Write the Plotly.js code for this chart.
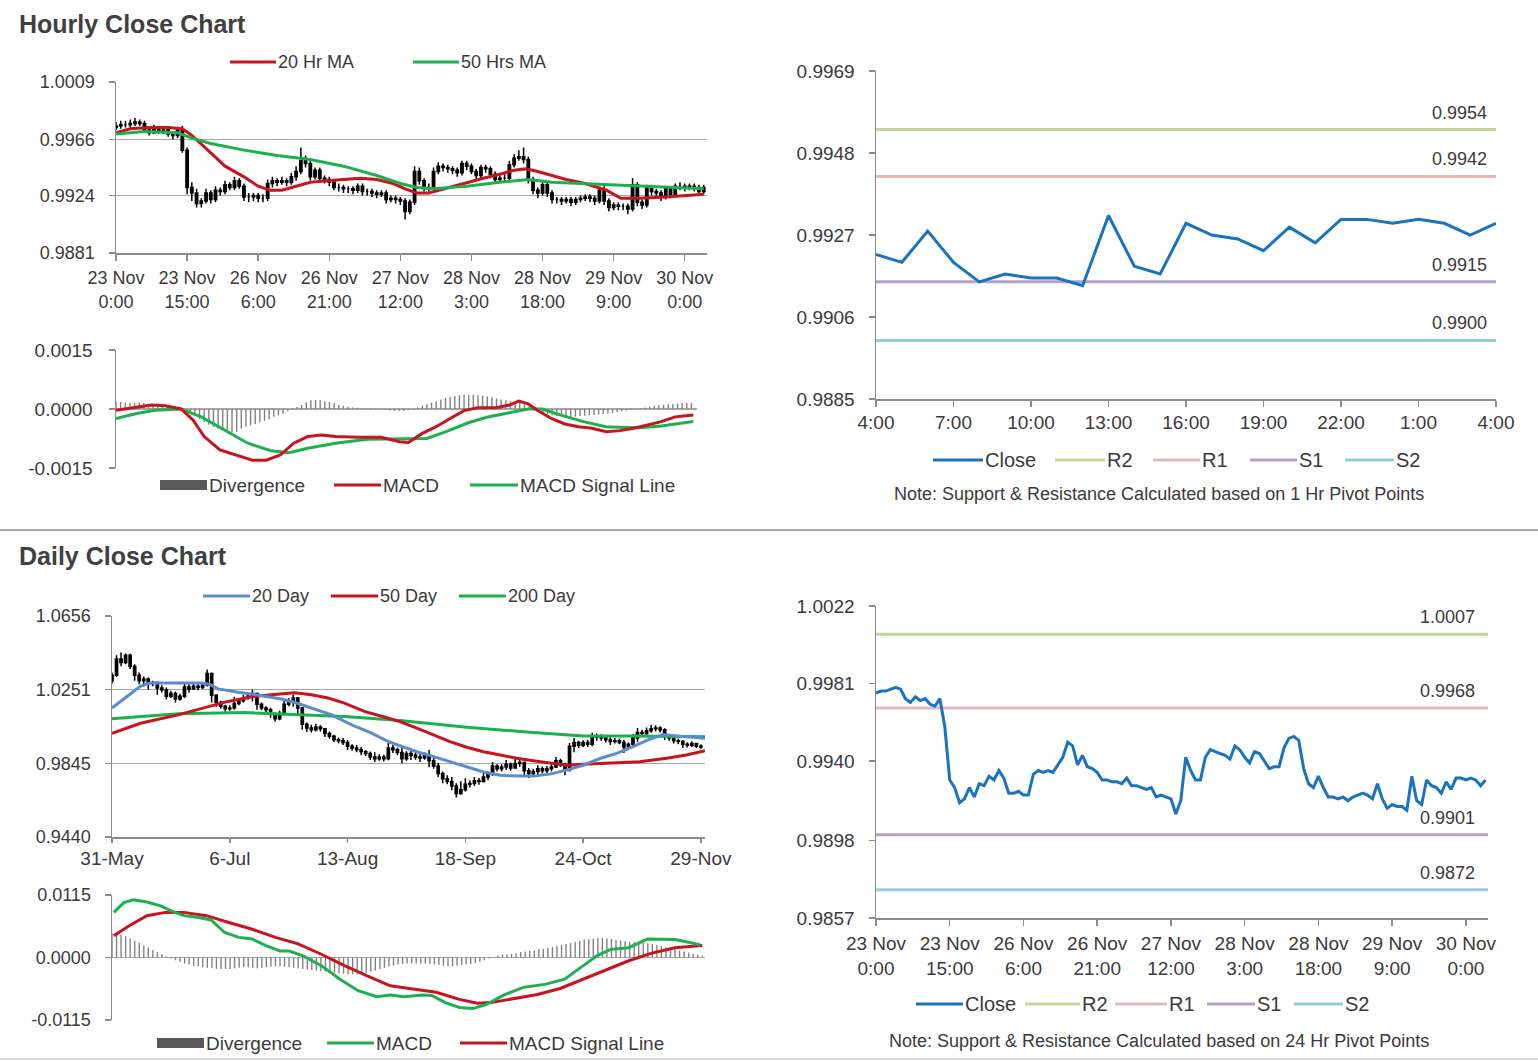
<!DOCTYPE html>
<html><head><meta charset="utf-8">
<script src="https://cdn.plot.ly/plotly-3.0.1.min.js"></script>
<style>html,body{margin:0;padding:0;background:#fff;}#chart{width:1538px;height:1061px;}</style>
</head><body><div id="chart"></div>
<script>
// ---------------- DATA ----------------
// Hourly OHLC, 23 Nov 0:00 .. 30 Nov 4:00 (trading hours)
const hOpen = [
0.9975,0.9976,0.9977,0.9977,0.9978,0.9979,0.9978,0.9973,0.9971,0.9974,
0.9972,0.9973,0.9970,0.9969,0.9973,0.9958,0.9930,0.9926,0.9918,0.9920,
0.9926,0.9921,0.9928,0.9927,0.9932,0.9930,0.9935,0.9931,0.9923,0.9923,
0.9924,0.9922,0.9922,0.9933,0.9935,0.9934,0.9935,0.9934,0.9938,0.9942,
0.9950,0.9948,0.9938,0.9943,0.9937,0.9936,0.9934,0.9930,0.9930,0.9929,
0.9929,0.9928,0.9931,0.9927,0.9927,0.9926,0.9925,0.9926,0.9921,0.9922,
0.9921,0.9920,0.9912,0.9919,0.9942,0.9935,0.9930,0.9930,0.9942,0.9946,
0.9945,0.9944,0.9943,0.9941,0.9948,0.9946,0.9942,0.9939,0.9945,0.9944,
0.9940,0.9936,0.9937,0.9937,0.9947,0.9952,0.9953,0.9951,0.9936,0.9928,
0.9926,0.9932,0.9926,0.9921,0.9921,0.9920,0.9921,0.9919,0.9921,0.9922,
0.9923,0.9922,0.9920,0.9928,0.9920,0.9915,0.9917,0.9916,0.9916,0.9914,
0.9932,0.9919,0.9917,0.9930,0.9927,0.9926,0.9923,0.9929,0.9925,0.9931,
0.9931,0.9930,0.9931,0.9930,0.9927];
const hHigh = [
0.9979,0.9980,0.9980,0.9981,0.9982,0.9981,0.9980,0.9975,0.9977,0.9976,
0.9975,0.9975,0.9972,0.9975,0.9976,0.9960,0.9934,0.9929,0.9922,0.9929,
0.9928,0.9931,0.9930,0.9935,0.9934,0.9938,0.9937,0.9933,0.9926,0.9926,
0.9926,0.9925,0.9936,0.9938,0.9937,0.9938,0.9937,0.9941,0.9946,0.9960,
0.9954,0.9950,0.9945,0.9945,0.9939,0.9938,0.9936,0.9933,0.9932,0.9931,
0.9931,0.9933,0.9933,0.9929,0.9929,0.9928,0.9928,0.9928,0.9924,0.9924,
0.9923,0.9922,0.9921,0.9946,0.9945,0.9937,0.9933,0.9945,0.9949,0.9948,
0.9947,0.9946,0.9945,0.9950,0.9950,0.9948,0.9944,0.9947,0.9947,0.9946,
0.9942,0.9939,0.9940,0.9950,0.9955,0.9958,0.9960,0.9953,0.9938,0.9930,
0.9934,0.9934,0.9928,0.9923,0.9923,0.9923,0.9923,0.9923,0.9924,0.9925,
0.9925,0.9924,0.9930,0.9931,0.9922,0.9919,0.9919,0.9918,0.9918,0.9937,
0.9934,0.9921,0.9932,0.9932,0.9929,0.9928,0.9931,0.9931,0.9933,0.9934,
0.9933,0.9933,0.9933,0.9932,0.9932];
const hLow = [
0.9973,0.9974,0.9975,0.9975,0.9976,0.9976,0.9971,0.9969,0.9970,0.9970,
0.9970,0.9968,0.9966,0.9967,0.9956,0.9925,0.9920,0.9915,0.9915,0.9918,
0.9918,0.9919,0.9924,0.9925,0.9928,0.9928,0.9929,0.9920,0.9919,0.9920,
0.9919,0.9919,0.9920,0.9930,0.9931,0.9932,0.9931,0.9932,0.9935,0.9940,
0.9945,0.9935,0.9936,0.9934,0.9933,0.9931,0.9928,0.9927,0.9926,0.9926,
0.9925,0.9926,0.9924,0.9924,0.9923,0.9922,0.9923,0.9918,0.9919,0.9918,
0.9917,0.9906,0.9910,0.9917,0.9932,0.9927,0.9927,0.9928,0.9940,0.9942,
0.9941,0.9940,0.9938,0.9939,0.9943,0.9940,0.9936,0.9937,0.9941,0.9937,
0.9933,0.9934,0.9934,0.9935,0.9945,0.9950,0.9948,0.9933,0.9925,0.9922,
0.9924,0.9923,0.9918,0.9918,0.9917,0.9918,0.9916,0.9917,0.9919,0.9920,
0.9919,0.9917,0.9918,0.9917,0.9912,0.9913,0.9913,0.9913,0.9910,0.9912,
0.9916,0.9914,0.9915,0.9924,0.9923,0.9920,0.9921,0.9922,0.9923,0.9928,
0.9927,0.9928,0.9927,0.9925,0.9925];
const hClose = [
0.9976,0.9977,0.9977,0.9978,0.9979,0.9978,0.9973,0.9971,0.9974,0.9972,
0.9973,0.9970,0.9969,0.9973,0.9958,0.9930,0.9926,0.9918,0.9920,0.9926,
0.9921,0.9928,0.9927,0.9932,0.9930,0.9935,0.9931,0.9923,0.9923,0.9924,
0.9922,0.9922,0.9933,0.9935,0.9934,0.9935,0.9934,0.9938,0.9942,0.9950,
0.9948,0.9938,0.9943,0.9937,0.9936,0.9934,0.9930,0.9930,0.9929,0.9929,
0.9928,0.9931,0.9927,0.9927,0.9926,0.9925,0.9926,0.9921,0.9922,0.9921,
0.9920,0.9912,0.9919,0.9942,0.9935,0.9930,0.9930,0.9942,0.9946,0.9945,
0.9944,0.9943,0.9941,0.9948,0.9946,0.9942,0.9939,0.9945,0.9944,0.9940,
0.9936,0.9937,0.9937,0.9947,0.9952,0.9953,0.9951,0.9936,0.9928,0.9926,
0.9932,0.9926,0.9921,0.9921,0.9920,0.9921,0.9919,0.9921,0.9922,0.9923,
0.9922,0.9920,0.9928,0.9920,0.9915,0.9917,0.9916,0.9916,0.9914,0.9932,
0.9919,0.9917,0.9930,0.9927,0.9926,0.9923,0.9929,0.9925,0.9931,0.9931,
0.9930,0.9931,0.9930,0.9927,0.9930];
const hTickVals = [0,15,30,45,60,75,90,105,120];
const hTickText = ['23 Nov<br>0:00','23 Nov<br>15:00','26 Nov<br>6:00','26 Nov<br>21:00','27 Nov<br>12:00','28 Nov<br>3:00','28 Nov<br>18:00','29 Nov<br>9:00','30 Nov<br>0:00'];

// Hourly moving averages (hour index, value)
const ma20hX = [0,3,7,11,14,16,20,23,27,30,32.5,35,38,41,44.5,48,51.5,55,58.5,61,63.5,66,70,74,77.5,81,84,86.5,89,92,95,99,103.5,106.5,110.5,116,120,124];
const ma20h  = [0.9971,0.9974,0.9975,0.9975,0.9974,0.9969,0.9956,0.9946,0.9938,0.9931,0.9928,0.9928,0.9931,0.9934,0.9935,0.9936,0.9937,0.9936,0.9933,0.9929,0.9926,0.9926,0.9930,0.9934,0.9937,0.9940,0.9943,0.9944,0.9942,0.9939,0.9936,0.9933,0.9928,0.9922,0.9922,0.9923,0.9924,0.9925];
const ma50hX = [0,6,13,16,20,27,34,41,48,55,60,63.5,67,74,81,87,92,99,106,113,120,124];
const ma50h  = [0.9970,0.9972,0.9971,0.9967,0.9963,0.9958,0.9954,0.9951,0.9946,0.9939,0.9933,0.9930,0.9929,0.9931,0.9934,0.9936,0.9934,0.9933,0.9932,0.9931,0.9930,0.9929];

// Hourly MACD
const hMacdX = [0,4.7,7.6,10.6,14,16.6,19,22.4,26.4,29.4,32.4,35.4,38.3,41.3,44.3,47.3,52.2,57.1,61.1,63,66,69,72,75,77.9,81.9,84.8,86.8,88.8,90.8,93.8,96.7,99.7,102.6,105.6,108.6,111.6,114.5,117.5,120.5,124.4];
const hMacd  = [-0.00003,0.00006,0.0001,0.00008,0,-0.00028,-0.0007,-0.00104,-0.0012,-0.0013,-0.0013,-0.00117,-0.00087,-0.0007,-0.00066,-0.0007,-0.00072,-0.00072,-0.00083,-0.00085,-0.00062,-0.00045,-0.00024,-0.00004,0.00003,0.00003,0.0001,0.0002,0.00013,-0.00003,-0.00024,-0.00038,-0.00045,-0.00049,-0.00058,-0.00055,-0.00049,-0.00041,-0.00032,-0.0002,-0.00015];
const hSigX  = [0,4.7,8.5,14,18.4,23.4,28.4,33.4,37.3,41.3,47.3,54.2,62.1,67,71,75.9,79.9,84.8,88.8,91.8,95.7,100.7,105.6,109.6,113.5,117.5,121.5,124.4];
const hSig   = [-0.00024,-0.00011,-0.00003,0,-0.0002,-0.00053,-0.00087,-0.00106,-0.00111,-0.001,-0.00087,-0.00077,-0.00075,-0.00075,-0.00058,-0.00035,-0.00021,-0.00009,0,0,-0.00015,-0.00032,-0.00045,-0.00047,-0.00047,-0.00043,-0.00036,-0.00032];
const hDiv = [
0.00020,0.00018,0.00016,0.00015,0.00015,0.00016,0.00015,0.00013,0.00012,0.00010,
0.00009,0.00007,0.00005,0.00003,0.00000,-0.00004,-0.00010,-0.00018,-0.00026,-0.00034,
-0.00040,-0.00046,-0.00050,-0.00055,-0.00058,-0.00060,-0.00058,-0.00050,-0.00045,-0.00042,
-0.00038,-0.00034,-0.00030,-0.00026,-0.00020,-0.00016,-0.00012,-0.00006,-0.00002,0.00005,
0.00010,0.00017,0.00022,0.00023,0.00022,0.00020,0.00018,0.00015,0.00010,0.00008,
0.00006,0.00004,0.00003,0.00002,0.00001,0.00001,0.00001,0.00000,-0.00002,-0.00004,
-0.00005,-0.00006,-0.00005,-0.00003,0.00000,0.00004,0.00008,0.00012,0.00016,0.00020,
0.00024,0.00028,0.00031,0.00033,0.00035,0.00036,0.00036,0.00036,0.00035,0.00034,
0.00032,0.00030,0.00027,0.00024,0.00022,0.00020,0.00018,0.00016,0.00012,0.00006,
0.00000,-0.00005,-0.00010,-0.00013,-0.00016,-0.00018,-0.00019,-0.00020,-0.00020,-0.00019,
-0.00018,-0.00017,-0.00016,-0.00015,-0.00014,-0.00013,-0.00012,-0.00010,-0.00008,-0.00006,
-0.00004,-0.00002,0.00000,0.00002,0.00004,0.00006,0.00008,0.00010,0.00011,0.00012,
0.00013,0.00014,0.00015,0.00015,0.00015];

// 1 Hr pivot chart: last 25 hourly closes
const pivHourLabels = ['4:00','7:00','10:00','13:00','16:00','19:00','22:00','1:00','4:00'];
const hrLevelNames = ['R2','R1','S1','S2'];
const hrLevels = [0.9954,0.9942,0.9915,0.9900];
const dayLevels = [1.0007,0.9968,0.9901,0.9872];

// Daily OHLC 31-May .. 29-Nov
const dOpen = [
1.0300,1.0330,1.0420,1.0400,1.0440,1.0380,1.0330,1.0300,1.0310,1.0285,
1.0290,1.0260,1.0250,1.0215,1.0230,1.0200,1.0215,1.0265,1.0255,1.0270,
1.0262,1.0275,1.0340,1.0220,1.0180,1.0160,1.0145,1.0150,1.0175,1.0190,
1.0205,1.0215,1.0230,1.0170,1.0150,1.0140,1.0115,1.0090,1.0120,1.0170,
1.0190,1.0205,1.0150,1.0060,1.0040,1.0030,1.0045,1.0035,1.0010,0.9995,
0.9975,0.9970,0.9960,0.9940,0.9930,0.9920,0.9910,0.9900,0.9880,0.9870,
0.9880,0.9870,0.9930,0.9920,0.9905,0.9870,0.9900,0.9890,0.9880,0.9875,
0.9890,0.9860,0.9830,0.9790,0.9760,0.9745,0.9720,0.9680,0.9700,0.9730,
0.9735,0.9750,0.9745,0.9770,0.9790,0.9830,0.9815,0.9825,0.9840,0.9820,
0.9845,0.9850,0.9805,0.9790,0.9800,0.9815,0.9805,0.9815,0.9825,0.9860,
0.9840,0.9810,0.9940,0.9960,0.9945,0.9960,0.9950,0.9990,0.9995,0.9985,
0.9975,0.9965,0.9970,0.9960,0.9935,0.9950,0.9985,1.0015,1.0010,1.0025,
1.0035,1.0040,1.0030,0.9995,0.9985,0.9970,0.9965,0.9950,0.9945,0.9955,0.9940];
const dHigh = [
1.0345,1.0440,1.0455,1.0450,1.0448,1.0390,1.0345,1.0323,1.0318,1.0300,
1.0295,1.0275,1.0262,1.0245,1.0240,1.0228,1.0290,1.0280,1.0285,1.0282,
1.0290,1.0362,1.0345,1.0225,1.0190,1.0168,1.0165,1.0212,1.0200,1.0223,
1.0230,1.0251,1.0235,1.0180,1.0160,1.0151,1.0125,1.0135,1.0196,1.0205,
1.0223,1.0210,1.0155,1.0070,1.0057,1.0063,1.0055,1.0040,1.0020,1.0002,
0.9988,0.9985,0.9974,0.9950,0.9946,0.9935,0.9918,0.9910,0.9907,0.9895,
0.9893,0.9957,0.9946,0.9932,0.9935,0.9912,0.9919,0.9905,0.9902,0.9905,
0.9919,0.9875,0.9847,0.9800,0.9780,0.9770,0.9736,0.9747,0.9763,0.9752,
0.9770,0.9765,0.9797,0.9800,0.9852,0.9840,0.9840,0.9863,0.9850,0.9870,
0.9865,0.9855,0.9820,0.9815,0.9835,0.9828,0.9830,0.9840,0.9880,0.9870,
0.9848,0.9957,0.9985,0.9970,0.9972,0.9975,1.0013,1.0010,1.0005,0.9998,
0.9990,0.9985,0.9982,0.9974,0.9960,1.0007,1.0040,1.0030,1.0042,1.0057,
1.0055,1.0050,1.0038,1.0005,0.9995,0.9982,0.9974,0.9962,0.9965,0.9957,0.9950];
const dLow = [
1.0285,1.0320,1.0380,1.0390,1.0365,1.0300,1.0280,1.0268,1.0251,1.0270,
1.0223,1.0235,1.0196,1.0205,1.0180,1.0190,1.0205,1.0234,1.0250,1.0248,
1.0255,1.0268,1.0180,1.0157,1.0145,1.0129,1.0135,1.0140,1.0165,1.0180,
1.0195,1.0185,1.0140,1.0138,1.0125,1.0096,1.0074,1.0082,1.0110,1.0160,
1.0157,1.0112,1.0030,1.0018,1.0015,1.0020,1.0020,0.9990,0.9980,0.9963,
0.9955,0.9946,0.9919,0.9915,0.9907,0.9890,0.9885,0.9863,0.9852,0.9860,
0.9855,0.9862,0.9902,0.9890,0.9846,0.9860,0.9863,0.9865,0.9852,0.9865,
0.9824,0.9815,0.9770,0.9736,0.9730,0.9697,0.9658,0.9672,0.9690,0.9713,
0.9720,0.9728,0.9740,0.9752,0.9775,0.9800,0.9800,0.9808,0.9805,0.9815,
0.9825,0.9780,0.9765,0.9775,0.9780,0.9790,0.9790,0.9800,0.9820,0.9825,
0.9780,0.9800,0.9907,0.9930,0.9935,0.9935,0.9940,0.9970,0.9970,0.9960,
0.9946,0.9955,0.9950,0.9902,0.9925,0.9940,0.9963,0.9990,0.9995,1.0013,
1.0020,1.0015,0.9974,0.9970,0.9955,0.9950,0.9930,0.9932,0.9935,0.9930,0.9925];
const dClose = [
1.0330,1.0420,1.0400,1.0440,1.0380,1.0330,1.0300,1.0310,1.0285,1.0290,
1.0260,1.0250,1.0215,1.0230,1.0200,1.0215,1.0265,1.0255,1.0270,1.0262,
1.0275,1.0340,1.0220,1.0180,1.0160,1.0145,1.0150,1.0175,1.0190,1.0205,
1.0215,1.0230,1.0170,1.0150,1.0140,1.0115,1.0090,1.0120,1.0170,1.0190,
1.0205,1.0150,1.0060,1.0040,1.0030,1.0045,1.0035,1.0010,0.9995,0.9975,
0.9970,0.9960,0.9940,0.9930,0.9920,0.9910,0.9900,0.9880,0.9870,0.9880,
0.9870,0.9930,0.9920,0.9905,0.9870,0.9900,0.9890,0.9880,0.9875,0.9890,
0.9860,0.9830,0.9790,0.9760,0.9745,0.9720,0.9680,0.9700,0.9730,0.9735,
0.9750,0.9745,0.9770,0.9790,0.9830,0.9815,0.9825,0.9840,0.9820,0.9845,
0.9850,0.9805,0.9790,0.9800,0.9815,0.9805,0.9815,0.9825,0.9860,0.9840,
0.9810,0.9940,0.9960,0.9945,0.9960,0.9950,0.9990,0.9995,0.9985,0.9975,
0.9965,0.9970,0.9960,0.9935,0.9950,0.9985,1.0015,1.0010,1.0025,1.0035,
1.0040,1.0030,0.9995,0.9985,0.9970,0.9965,0.9950,0.9945,0.9955,0.9940,0.9935];
const dTickVals = [0,26,52,78,104,130];
const dTickText = ['31-May','6-Jul','13-Aug','18-Sep','24-Oct','29-Nov'];

// Daily moving averages (day index, value)
const ma20dX = [0,3.5,6.3,8.5,14.6,19.7,21.6,23.4,27.8,30.8,33.7,37.4,40.4,44,48.5,52.9,57.3,61,64.5,67.3,71,74.6,78.3,82,85.7,89.3,93,96.7,100.3,104,107.7,111.4,115,118.7,121.6,126,130.9];
const ma20d  = [1.0150,1.0214,1.0270,1.0288,1.0288,1.0288,1.0279,1.0255,1.0236,1.0227,1.0214,1.0199,1.0180,1.0150,1.0112,1.0057,1.0011,0.9965,0.9935,0.9909,0.9882,0.9854,0.9826,0.9798,0.9780,0.9775,0.9775,0.9786,0.9808,0.9835,0.9872,0.9900,0.9937,0.9978,1.0002,0.9992,0.9984];
const ma50dX = [0,6.3,14.6,20.4,25.6,31.5,36.6,40.3,44,47.7,51.3,55.7,60.1,63.6,67.3,71,74.6,78.3,82,85.7,89.3,93,96.7,100.3,104,111.4,116.5,122.4,126.8,130.9];
const ma50d  = [1.0011,1.0066,1.0112,1.0150,1.0186,1.0214,1.0227,1.0233,1.0223,1.0205,1.0177,1.0131,1.0100,1.0075,1.0039,1.0002,0.9965,0.9934,0.9909,0.9891,0.9873,0.9859,0.9845,0.9835,0.9840,0.9848,0.9854,0.9873,0.9891,0.9915];
const ma200dX = [0,14.6,29.3,40.3,51.3,63.6,78.3,93,104,115,130.9];
const ma200d  = [1.0090,1.0118,1.0125,1.0112,1.0103,1.0081,1.0044,1.0015,0.9996,0.9996,0.9992];

// Daily MACD
const dMacdX = [0.4,2.6,4.7,7.7,10.7,13.8,15.8,18.8,21.8,24.8,27.9,30.9,33.9,37,39,42.1,46.1,50.2,54.2,58.3,61.3,64.3,68.4,70.4,73.4,76.5,79.5,82.5,86.6,90.6,95.6,99.7,103.8,106.8,109.8,113.8,117.9,121,124,127,129.6];
const dMacd  = [0.0083,0.0101,0.0106,0.0102,0.0095,0.0083,0.0077,0.0074,0.0069,0.0046,0.0037,0.0034,0.0022,0.0012,0.0012,0.0003,-0.0015,-0.0040,-0.0061,-0.0072,-0.0069,-0.0072,-0.0069,-0.0070,-0.0083,-0.0092,-0.0094,-0.0086,-0.0068,-0.0055,-0.0049,-0.0040,-0.0015,0.0003,0.0015,0.0018,0.0034,0.0034,0.0033,0.0028,0.0023];
const dSigX  = [0.4,3.7,7.7,11.7,15.8,20.8,25.9,30.9,36,41,46.1,51.2,56.2,61.3,66.3,71.4,76.5,80.5,83.5,88.6,93.7,98.7,103.8,108.8,113.8,118.9,124,130];
const dSig   = [0.0040,0.0058,0.0077,0.0083,0.0083,0.0077,0.0064,0.0052,0.0037,0.0025,0.0006,-0.0015,-0.0034,-0.0052,-0.0058,-0.0064,-0.0077,-0.0084,-0.0083,-0.0075,-0.0068,-0.0057,-0.0040,-0.0022,-0.0006,0.0008,0.0018,0.0022];
const dDiv = [
0.0045,0.0044,0.0042,0.0039,0.0035,0.0031,0.0027,0.0022,0.0018,0.0014,0.0010,0.0006,0.0002,
-0.0002,-0.0005,-0.0008,-0.0011,-0.0013,-0.0015,-0.0016,-0.0018,-0.0019,-0.0020,-0.0021,-0.0021,-0.0021,
-0.0021,-0.0020,-0.0019,-0.0018,-0.0018,-0.0019,-0.0020,-0.0019,-0.0018,-0.0017,-0.0016,-0.0016,-0.0017,
-0.0018,-0.0019,-0.0020,-0.0021,-0.0022,-0.0023,-0.0024,-0.0025,-0.0026,-0.0027,-0.0028,-0.0029,-0.0030,
-0.0031,-0.0031,-0.0031,-0.0030,-0.0028,-0.0026,-0.0024,-0.0021,-0.0019,-0.0017,-0.0015,-0.0013,-0.0012,
-0.0011,-0.0011,-0.0011,-0.0011,-0.0011,-0.0012,-0.0013,-0.0014,-0.0015,-0.0016,-0.0016,-0.0015,-0.0014,
-0.0013,-0.0012,-0.0010,-0.0008,-0.0005,-0.0002,0.0001,0.0003,0.0005,0.0006,0.0007,0.0008,0.0010,
0.0011,0.0012,0.0013,0.0015,0.0016,0.0018,0.0019,0.0021,0.0023,0.0025,0.0027,0.0029,0.0031,
0.0033,0.0034,0.0035,0.0036,0.0036,0.0035,0.0034,0.0032,0.0031,0.0030,0.0029,0.0029,0.0028,
0.0027,0.0026,0.0025,0.0023,0.0021,0.0019,0.0017,0.0015,0.0013,0.0011,0.0009,0.0007,0.0005,0.0003];

// ---------------- STYLE ----------------
const FONT = 'Liberation Sans, Arial, sans-serif';
const TXT = '#3a3a3a';
const RED = '#c8141e', GREEN = '#1db04f', BLUE = '#5b8ccb', CLOSE = '#1a73be';
const LVLC = ['#c4d79b','#e6b9b8','#b3a2c7','#93cddd'];
const DIVC = '#808080', AXC = '#8c8c8c', GRIDC = '#a6a6a6';
const W = 1538, H = 1061;
const px = v => v / W, py = v => 1 - v / H;

const hIdx = hClose.map((v, i) => i);
const dIdx = dClose.map((v, i) => i);
const pivClose = hClose.slice(-25);
const pivIdx = pivClose.map((v, i) => i);

function ax(o) {
  return Object.assign({showgrid:false, zeroline:false, showline:true, linecolor:AXC, linewidth:1.5,
    ticks:'outside', ticklen:6, tickcolor:AXC, tickwidth:1.5, fixedrange:true,
    tickfont:{family:FONT, size:18, color:TXT}}, o);
}
const blk = {line:{color:'#000', width:1.5}, fillcolor:'#000'};
const traces = [
  // Panel 1
  {type:'candlestick', x:hIdx, open:hOpen, high:hHigh, low:hLow, close:hClose, xaxis:'x', yaxis:'y', increasing:blk, decreasing:blk, whiskerwidth:0, hoverinfo:'skip'},
  {type:'scatter', mode:'lines', x:ma20hX, y:ma20h, xaxis:'x', yaxis:'y', line:{color:RED, width:3}},
  {type:'scatter', mode:'lines', x:ma50hX, y:ma50h, xaxis:'x', yaxis:'y', line:{color:GREEN, width:3}},
  // Panel 2
  {type:'bar', x:hIdx, y:hDiv, xaxis:'x2', yaxis:'y2', marker:{color:DIVC}, width:0.3},
  {type:'scatter', mode:'lines', x:hSigX, y:hSig, xaxis:'x2', yaxis:'y2', line:{color:GREEN, width:3}},
  {type:'scatter', mode:'lines', x:hMacdX, y:hMacd, xaxis:'x2', yaxis:'y2', line:{color:RED, width:3}},
];
// Panel 3 levels + close
hrLevels.forEach((lv, k) => traces.push({type:'scatter', mode:'lines', x:[0,24], y:[lv,lv], xaxis:'x3', yaxis:'y3', line:{color:LVLC[k], width:3}}));
traces.push({type:'scatter', mode:'lines', x:pivIdx, y:pivClose, xaxis:'x3', yaxis:'y3', line:{color:CLOSE, width:3}});
// Panel 4
traces.push({type:'candlestick', x:dIdx, open:dOpen, high:dHigh, low:dLow, close:dClose, xaxis:'x4', yaxis:'y4', increasing:blk, decreasing:blk, whiskerwidth:0, hoverinfo:'skip'});
traces.push({type:'scatter', mode:'lines', x:ma200dX, y:ma200d, xaxis:'x4', yaxis:'y4', line:{color:GREEN, width:3}});
traces.push({type:'scatter', mode:'lines', x:ma50dX, y:ma50d, xaxis:'x4', yaxis:'y4', line:{color:RED, width:3}});
traces.push({type:'scatter', mode:'lines', x:ma20dX, y:ma20d, xaxis:'x4', yaxis:'y4', line:{color:BLUE, width:3}});
// Panel 5
traces.push({type:'bar', x:dIdx, y:dDiv, xaxis:'x5', yaxis:'y5', marker:{color:DIVC}, width:0.3});
traces.push({type:'scatter', mode:'lines', x:dSigX, y:dSig, xaxis:'x5', yaxis:'y5', line:{color:RED, width:3}});
traces.push({type:'scatter', mode:'lines', x:dMacdX, y:dMacd, xaxis:'x5', yaxis:'y5', line:{color:GREEN, width:3}});
// Panel 6
dayLevels.forEach((lv, k) => traces.push({type:'scatter', mode:'lines', x:[0,124.5], y:[lv,lv], xaxis:'x6', yaxis:'y6', line:{color:LVLC[k], width:3}}));
traces.push({type:'scatter', mode:'lines', x:hIdx, y:hClose, xaxis:'x6', yaxis:'y6', line:{color:CLOSE, width:3}});

const shapes = [
  {type:'line', xref:'paper', yref:'paper', x0:0, x1:1, y0:py(530), y1:py(530), line:{color:'#a9a9a9', width:2}},
  {type:'line', xref:'paper', yref:'paper', x0:0, x1:1, y0:py(1059), y1:py(1059), line:{color:'#dddddd', width:2}}
];
const annotations = [
  {xref:'paper', yref:'paper', x:px(17), y:py(24), xanchor:'left', yanchor:'middle', showarrow:false, text:'<b>Hourly Close Chart</b>', font:{family:FONT, size:25, color:'#404040'}},
  {xref:'paper', yref:'paper', x:px(17), y:py(556), xanchor:'left', yanchor:'middle', showarrow:false, text:'<b>Daily Close Chart</b>', font:{family:FONT, size:25, color:'#404040'}},
  {xref:'paper', yref:'paper', x:px(1159), y:py(494), xanchor:'center', yanchor:'middle', showarrow:false, text:'Note: Support & Resistance Calculated based on 1 Hr Pivot Points', font:{family:FONT, size:18, color:TXT}},
  {xref:'paper', yref:'paper', x:px(1159), y:py(1041), xanchor:'center', yanchor:'middle', showarrow:false, text:'Note: Support & Resistance Calculated based on 24 Hr Pivot Points', font:{family:FONT, size:18, color:TXT}}
];
hrLevels.forEach(lv => annotations.push({xref:'paper', yref:'y3', x:px(1489), y:lv, yshift:17, xanchor:'right', yanchor:'middle', showarrow:false, text:lv.toFixed(4), font:{family:FONT, size:18, color:TXT}}));
dayLevels.forEach(lv => annotations.push({xref:'paper', yref:'y6', x:px(1477), y:lv, yshift:17, xanchor:'right', yanchor:'middle', showarrow:false, text:lv.toFixed(4), font:{family:FONT, size:18, color:TXT}}));

function legend(items, size) {
  items.forEach(([x0, x1, y, color, kind, text]) => {
    if (kind === 'box') shapes.push({type:'rect', xref:'paper', yref:'paper', x0:px(x0), x1:px(x1), y0:py(y+5), y1:py(y-5), fillcolor:color, line:{width:0}});
    else shapes.push({type:'line', xref:'paper', yref:'paper', x0:px(x0), x1:px(x1), y0:py(y), y1:py(y), line:{color:color, width:3}});
    annotations.push({xref:'paper', yref:'paper', x:px(x1), y:py(y), xanchor:'left', yanchor:'middle', showarrow:false, text:text, font:{family:FONT, size:size, color:TXT}});
  });
}
legend([[230,276,62,RED,'line','20 Hr MA'],[413,459,62,GREEN,'line','50 Hrs MA']], 18);
legend([[160,207,485,'#595959','box','Divergence'],[334,381,485,RED,'line','MACD'],[470,518,485,GREEN,'line','MACD Signal Line']], 19);
legend([[933,983,460,CLOSE,'line','Close'],[1055,1105,460,LVLC[0],'line',hrLevelNames[0]],[1153,1200,460,LVLC[1],'line',hrLevelNames[1]],[1250,1297,460,LVLC[2],'line',hrLevelNames[2]],[1345,1394,460,LVLC[3],'line',hrLevelNames[3]]], 20);
legend([[203,250,596,BLUE,'line','20 Day'],[331,378,596,RED,'line','50 Day'],[459,506,596,GREEN,'line','200 Day']], 18);
legend([[157,204,1043,'#595959','box','Divergence'],[327,374,1043,GREEN,'line','MACD'],[460,507,1043,RED,'line','MACD Signal Line']], 19);
legend([[916,963,1004,CLOSE,'line','Close'],[1025,1080,1004,LVLC[0],'line',hrLevelNames[0]],[1115,1167,1004,LVLC[1],'line',hrLevelNames[1]],[1207,1255,1004,LVLC[2],'line',hrLevelNames[2]],[1294,1343,1004,LVLC[3],'line',hrLevelNames[3]]], 20);

const grid = {showgrid:true, gridcolor:GRIDC, gridwidth:1.5};
const layout = {
  width:W, height:H, margin:{l:0, r:0, t:0, b:0}, paper_bgcolor:'#fff', plot_bgcolor:'#fff', showlegend:false,
  font:{family:FONT, color:TXT},
  xaxis: ax({domain:[px(116),px(707)], range:[0,124.7], anchor:'y', tickmode:'array', tickvals:hTickVals, ticktext:hTickText, rangeslider:{visible:false}, ticklabelstandoff:2}),
  yaxis: ax(Object.assign({domain:[py(253),py(82)], range:[0.9881,1.0009], anchor:'x', tickmode:'array', tickvals:[0.9881,0.9924,0.9966,1.0009], ticktext:['0.9881','0.9924','0.9966','1.0009'], ticklabelstandoff:10}, grid)),
  xaxis2: ax({domain:[px(116),px(697)], range:[0,125.2], anchor:'y2', showline:false, ticks:'', showticklabels:false}),
  yaxis2: ax(Object.assign({domain:[py(468),py(350)], range:[-0.0015,0.0015], anchor:'x2', tickmode:'array', tickvals:[-0.0015,0,0.0015], ticktext:['-0.0015','0.0000','0.0015'], tickfont:{family:FONT, size:19, color:TXT}, ticklabelstandoff:12}, grid)),
  xaxis3: ax({domain:[px(876),px(1496)], range:[0,24], anchor:'y3', tickmode:'array', tickvals:[0,3,6,9,12,15,18,21,24], ticktext:pivHourLabels, tickfont:{family:FONT, size:19, color:TXT}, ticklabelstandoff:0}),
  yaxis3: ax({domain:[py(399),py(71)], range:[0.9885,0.9969], anchor:'x3', tickmode:'array', tickvals:[0.9885,0.9906,0.9927,0.9948,0.9969], ticktext:['0.9885','0.9906','0.9927','0.9948','0.9969'], tickfont:{family:FONT, size:19, color:TXT}, ticklabelstandoff:10}),
  xaxis4: ax({domain:[px(112),px(705)], range:[0,130.9], anchor:'y4', tickmode:'array', tickvals:dTickVals, ticktext:dTickText, rangeslider:{visible:false}, tickfont:{family:FONT, size:19, color:TXT}, ticklen:4, ticklabelstandoff:0}),
  yaxis4: ax(Object.assign({domain:[py(837),py(616)], range:[0.9440,1.0656], anchor:'x4', tickmode:'array', tickvals:[0.9440,0.9845,1.0251,1.0656], ticktext:['0.9440','0.9845','1.0251','1.0656'], ticklabelstandoff:10}, grid)),
  xaxis5: ax({domain:[px(112),px(705)], range:[0,130.6], anchor:'y5', showline:false, ticks:'', showticklabels:false}),
  yaxis5: ax(Object.assign({domain:[py(1020),py(895)], range:[-0.0115,0.0115], anchor:'x5', tickmode:'array', tickvals:[-0.0115,0,0.0115], ticktext:['-0.0115','0.0000','0.0115'], ticklabelstandoff:10}, grid)),
  xaxis6: ax({domain:[px(876),px(1488)], range:[0,124.5], anchor:'y6', tickmode:'array', tickvals:hTickVals, ticktext:hTickText, tickfont:{family:FONT, size:19, color:TXT}, ticklabelstandoff:2}),
  yaxis6: ax({domain:[py(918),py(606)], range:[0.9857,1.0022], anchor:'x6', tickmode:'array', tickvals:[0.9857,0.9898,0.9940,0.9981,1.0022], ticktext:['0.9857','0.9898','0.9940','0.9981','1.0022'], tickfont:{family:FONT, size:19, color:TXT}, ticklabelstandoff:10}),
  shapes:shapes, annotations:annotations
};
Plotly.newPlot('chart', traces, layout, {staticPlot:true, displayModeBar:false});
</script></body></html>
